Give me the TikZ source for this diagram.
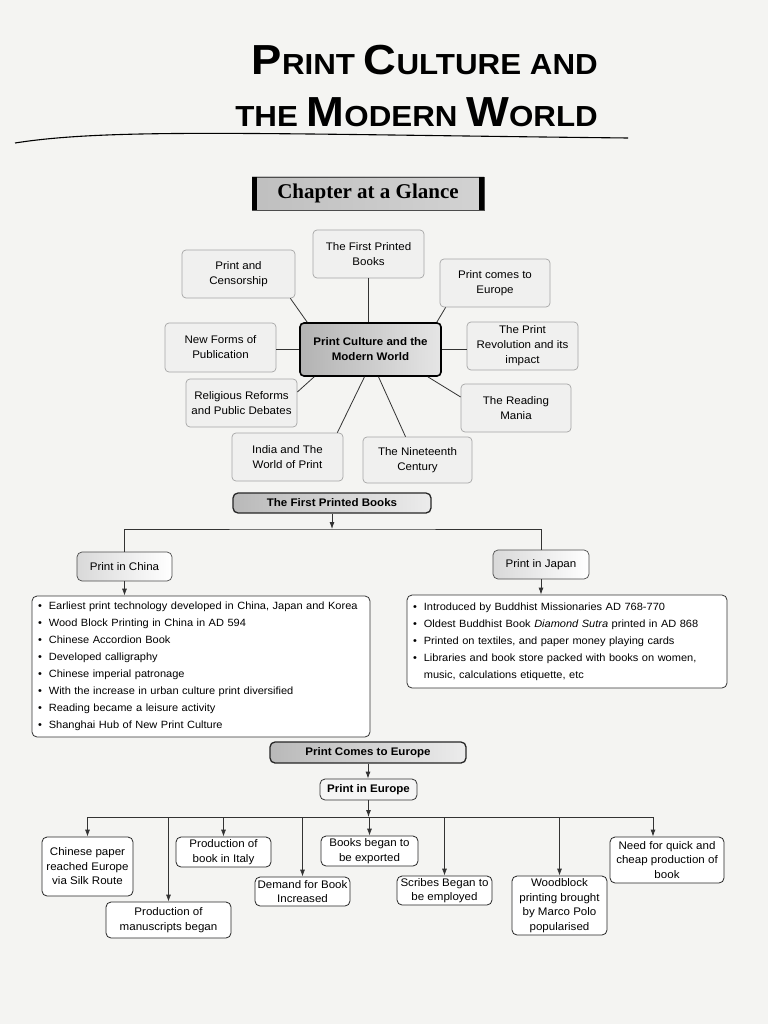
\documentclass[tikz,border=0pt]{standalone}
\usepackage{fontspec}
\setmainfont{Liberation Sans}[FakeStretch=1.05]
\newfontfamily\titlefont{Liberation Sans}[FakeStretch=1.08]
\newfontfamily\glancefont{Liberation Serif}
\usetikzlibrary{positioning, arrows.meta, calc}
\definecolor{paper}{HTML}{F4F4F2}
\definecolor{boxgray}{HTML}{F0F0EF}
\newcommand{\capsbig}[1]{{\fontsize{42}{42}\selectfont #1}}
\newcommand{\bul}{\textbullet\hspace{7pt}}

\begin{document}
\begin{tikzpicture}[x=1pt, y=-1pt,
    topic/.style={draw=gray!70, fill=boxgray, line width=0.7pt, rounded corners=4pt,
      align=center, inner sep=1pt, font=\fontsize{11}{15}\selectfont},
    hub/.style={draw=black, line width=1.6pt, rounded corners=4pt, left color=gray!60,
      right color=gray!20, align=center, inner sep=1pt,
      font=\bfseries\fontsize{11}{15}\selectfont},
    headbox/.style={draw=black!85, line width=1.3pt, rounded corners=5pt, left color=gray!55,
      right color=gray!15, inner sep=1pt, font=\bfseries\fontsize{11}{13}\selectfont},
    subbox/.style={draw=black!70, line width=0.7pt, rounded corners=5pt, left color=gray!30,
      right color=white, inner sep=1pt, font=\fontsize{11}{13}\selectfont},
    listbox/.style={draw=black!80, line width=0.8pt, rounded corners=5pt, fill=white,
      align=left, inner xsep=6pt, inner ysep=1pt, font=\fontsize{10.5}{17}\selectfont},
    leaf/.style={draw=black!85, line width=0.8pt, rounded corners=5pt, fill=white,
      align=center, inner sep=1pt, font=\fontsize{11}{14.5}\selectfont},
    link/.style={draw=black!80, line width=0.8pt},
    flow/.style={link, -{Latex[length=7pt, width=5pt]}}]

  \fill[paper] (0,0) rectangle (768,1024);
  \useasboundingbox (0,0) rectangle (768,1024);

  % heading
  \node[anchor=base east, inner sep=0pt, font=\titlefont\bfseries\fontsize{29}{29}\selectfont]
    (title1) at (598,75) {\capsbig{P}RINT \capsbig{C}ULTURE AND};
  \node[anchor=base east, inner sep=0pt, font=\titlefont\bfseries\fontsize{29}{29}\selectfont]
    (title2) at (598,127) {THE \capsbig{M}ODERN \capsbig{W}ORLD};
  \draw[line width=1.1pt] (15,143) .. controls (110,128) and (260,134) .. (628,138);

  \node[draw=black!70, shading=axis, left color=gray!50, middle color=gray!8, right color=gray!35,
    minimum width=232, minimum height=33, inner sep=0pt,
    font=\glancefont\bfseries\fontsize{21}{21}\selectfont] (glance) at (368,193.5) {Chapter at a Glance};
  \draw[line width=5pt] ([xshift=2.5]glance.north west) -- ([xshift=2.5]glance.south west);
  \draw[line width=5pt] ([xshift=-2.5]glance.north east) -- ([xshift=-2.5]glance.south east);

  % mind map
  \node[hub, minimum width=141, minimum height=53] (hub) at (370.5,349.5) {Print Culture and the\\Modern World};
  \node[topic, minimum width=111, minimum height=48] (fpb) at (368.5,254) {The First Printed\\Books};
  \node[topic, minimum width=113, minimum height=48] (cens) at (238.5,274) {Print and\\Censorship};
  \node[topic, minimum width=110, minimum height=48] (pce) at (495,283) {Print comes to\\Europe};
  \node[topic, minimum width=111, minimum height=49] (nfp) at (220.5,347.5) {New Forms of\\Publication};
  \node[topic, minimum width=111, minimum height=48] (rev) at (522.5,346) {The Print\\Revolution and its\\impact};
  \node[topic, minimum width=111, minimum height=48] (rel) at (241.5,403) {Religious Reforms\\and Public Debates};
  \node[topic, minimum width=110, minimum height=48] (mania) at (516,408) {The Reading\\Mania};
  \node[topic, minimum width=111, minimum height=48] (india) at (287.5,457) {India and The\\World of Print};
  \node[topic, minimum width=109, minimum height=46] (ninet) at (417.5,460) {The Nineteenth\\Century};

  \draw[link] (fpb.south) -- (fpb.south |- hub.north);
  \draw[link] ([xshift=-5]cens.south east) -- ([xshift=8]hub.north west);
  \draw[link] ([xshift=6]pce.south west) -- ([xshift=-5]hub.north east);
  \draw[link] (hub.west) -- (hub.west -| nfp.east);
  \draw[link] (hub.east) -- (hub.east -| rev.west);
  \draw[link] ([yshift=11]rel.east) -- ([xshift=15]hub.south west);
  \draw[link] ([yshift=11]mania.west) -- ([xshift=-14]hub.south east);
  \draw[link] ([xshift=-6]india.north east) -- ([xshift=-6]hub.south);
  \draw[link] ([xshift=-12]ninet.north) -- ([xshift=8]hub.south);

  % the first printed books
  \node[headbox, minimum width=198, minimum height=20] (fpbh) at (332,503) {The First Printed Books};
  \coordinate (split1) at (332,529);
  \node[subbox, minimum width=95, minimum height=29] (china) at (124.5,566.5) {Print in China};
  \node[subbox, minimum width=96, minimum height=29] (japan) at (541,564.5) {Print in Japan};
  \draw[flow] (fpbh.south) -- (split1);
  \draw[link] (china.north) |- (split1) -| (japan.north);

  \node[listbox, text width=326, minimum height=141] (chinal) at (201,666.5) {%
    \bul Earliest print technology developed in China, Japan and Korea\\
    \bul Wood Block Printing in China in AD 594\\
    \bul Chinese Accordion Book\\
    \bul Developed calligraphy\\
    \bul Chinese imperial patronage\\
    \bul With the increase in urban culture print diversified\\
    \bul Reading became a leisure activity\\
    \bul Shanghai Hub of New Print Culture};
  \node[listbox, text width=308, minimum height=93] (japanl) at (567,641.5) {%
    \bul Introduced by Buddhist Missionaries AD 768-770\\
    \bul Oldest Buddhist Book \textit{Diamond Sutra} printed in AD 868\\
    \bul Printed on textiles, and paper money playing cards\\
    \bul Libraries and book store packed with books on women,\\
    \hphantom{\bul}music, calculations etiquette, etc};
  \draw[flow] (china.south) -- (china.south |- chinal.north);
  \draw[flow] (japan.south) -- (japan.south |- japanl.north);

  % print comes to europe
  \node[headbox, minimum width=196, minimum height=21] (pceh) at (368,752.5) {Print Comes to Europe};
  \node[draw=black!80, line width=0.8pt, rounded corners=5pt, fill=gray!8, inner sep=1pt,
    minimum width=97, minimum height=21, font=\bfseries\fontsize{11}{13}\selectfont]
    (pie) at (368.5,789.5) {Print in Europe};
  \draw[flow] (pceh.south) -- (pceh.south |- pie.north);
  \coordinate (split2) at (368.5,817);
  \draw[flow] (pie.south) -- (split2);

  \node[leaf, minimum width=91, minimum height=59] (silk) at (87.5,866.5) {Chinese paper\\reached Europe\\via Silk Route};
  \node[leaf, minimum width=125, minimum height=36] (manu) at (168.5,920) {Production of\\manuscripts began};
  \node[leaf, minimum width=95, minimum height=30] (italy) at (223.5,852) {Production of\\book in Italy};
  \node[leaf, minimum width=95, minimum height=29] (demand) at (302.5,891.5) {Demand for Book\\Increased};
  \node[leaf, minimum width=97, minimum height=30] (export) at (369.5,851) {Books began to\\be exported};
  \node[leaf, minimum width=95, minimum height=29] (scribe) at (444.5,890.5) {Scribes Began to\\be employed};
  \node[leaf, minimum width=95, minimum height=59] (wood) at (559.5,905.5) {Woodblock\\printing brought\\by Marco Polo\\popularised};
  \node[leaf, minimum width=114, minimum height=46] (quick) at (667,860) {Need for quick and\\cheap production of\\book};
  \coordinate (qtop) at ([xshift=-14]quick.north);

  \draw[link] (split2 -| silk.north) -- (split2 -| qtop);
  \foreach \n in {silk, manu, italy, demand, export, scribe, wood}
    \draw[flow] (split2 -| \n.north) -- (\n.north);
  \draw[flow] (split2 -| qtop) -- (qtop);
\end{tikzpicture}
\end{document}
